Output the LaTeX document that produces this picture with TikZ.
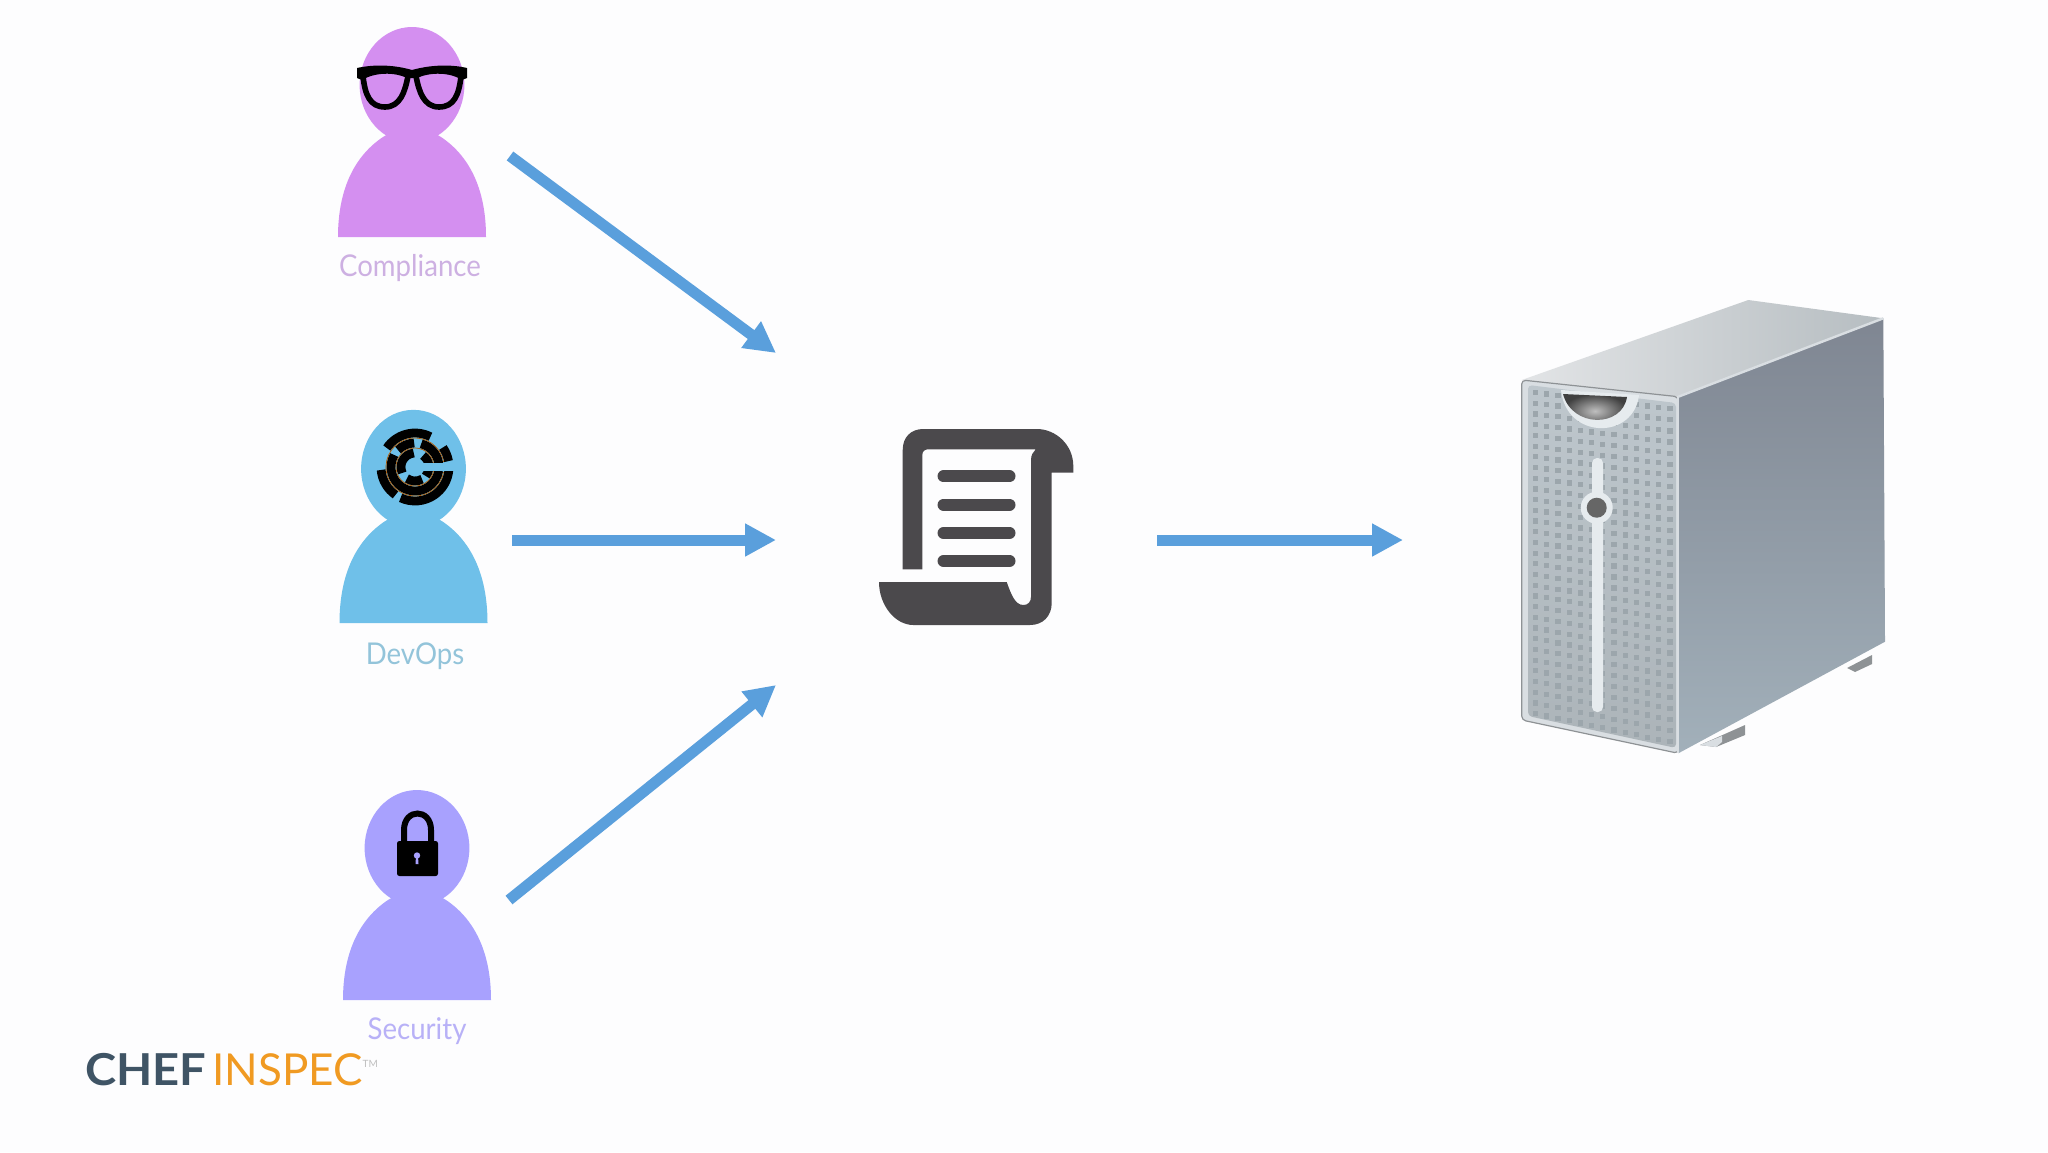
\documentclass[tikz,border=0pt]{standalone}
\usepackage{fontspec}
\setmainfont{Lato}
\newfontfamily\rolefont[FakeStretch=0.92]{Lato}
\newfontfamily\cheffont[FakeStretch=1.07]{Lato}
\usetikzlibrary{positioning,arrows.meta}

\definecolor{pagegrey}{HTML}{FDFDFE}
\definecolor{complianceviolet}{HTML}{D48FF0}
\definecolor{devopsblue}{HTML}{6FC0E9}
\definecolor{securityblue}{HTML}{A8A1FE}
\definecolor{compliancetext}{HTML}{CDB0E2}
\definecolor{devopstext}{HTML}{93C4DA}
\definecolor{securitytext}{HTML}{B8B1F7}
\definecolor{flowblue}{HTML}{5A9FDC}
\definecolor{scrollgrey}{HTML}{4B494C}
\definecolor{chefslate}{HTML}{3F5465}
\definecolor{inspecorange}{HTML}{F09A22}
\definecolor{serverlight}{HTML}{E2E4E6}
\definecolor{servermid}{HTML}{B6BDC1}
\definecolor{serverside}{HTML}{7F8692}
\definecolor{serverfoot}{HTML}{A2B0BA}
\definecolor{serverrim}{HTML}{D9DEE2}
\definecolor{serveredge}{HTML}{8E9295}
\definecolor{serverpanel}{HTML}{BEC7CD}
\definecolor{serverpanellow}{HTML}{ACB4B9}
\definecolor{serverdot}{HTML}{9CA6AC}
\definecolor{serverwhite}{HTML}{E6EBEE}

\tikzset{
    flow/.style = {-{Triangle[length=15.5pt,width=15.5pt]}, line width=5.5pt, flowblue},
    rolelabel/.style = {inner sep=0pt, font=\rolefont\fontsize{15}{18}\selectfont},
    logotext/.style = {inner sep=0pt, anchor=base west, font=\fontsize{22}{24}\selectfont},
    glassrim/.style = {draw=black, line width=2.8pt},
    scrollline/.style = {draw=scrollgrey, line width=6pt, line cap=round},
    chefring/.style = {draw=black, line width=4.4pt},
    chefhair/.style = {draw=orange!70!black, line width=0.35pt},
    pics/person/.style = {code = {
        \fill[#1] (-74,0) .. controls (-74,-50) and (-56,-82) .. (-29,-100)
            .. controls (-10,-112) and (10,-112) .. (29,-100)
            .. controls (56,-82) and (74,-50) .. (74,0) -- cycle;
        \fill[#1] (0,-152) ellipse [x radius=26.2pt, y radius=29pt];
    }}
}

\begin{document}
\begin{tikzpicture}[x=0.5pt, y=-0.5pt]
    \useasboundingbox (0,0) rectangle (2048,1152);
    \fill[pagegrey] (0,0) rectangle (2048,1152);

    \pic at (412,237) {person=complianceviolet};
    \pic[yscale=1.015] at (413.5,623) {person=devopsblue};
    \pic at (417,1000) {person=securityblue};

    \node (Compliance) [rolelabel, text=compliancetext] at (410,268) {Compliance};
    \node (DevOps) [rolelabel, text=devopstext] at (415,656) {DevOps};
    \node (Security) [rolelabel, text=securitytext] at (417,1031) {Security};

    \node (Chef) [logotext, text=chefslate, font=\cheffont\fontsize{22}{24}\selectfont\bfseries] at (85,1085) {CHEF};
    \node (Inspec) [logotext, text=inspecorange, right=2.5pt of Chef.base east, anchor=base west] {INSPEC\raisebox{9pt}{\color{black!25}\fontsize{5}{6}\selectfont TM}};

    % glasses
    \draw[glassrim] (363,76) .. controls (365,95) and (370,107) .. (385,107) .. controls (400,107) and (405,92) .. (408,76);
    \draw[glassrim] (461,76) .. controls (459,95) and (454,107) .. (439,107) .. controls (424,107) and (419,92) .. (416,76);
    \fill[black] (357,68) .. controls (375,64) and (395,65) .. (412,70) .. controls (430,65) and (450,64) .. (467,68)
        -- (467,78) -- (462,80) .. controls (450,72) and (430,72) .. (417,78) -- (407,78)
        .. controls (395,72) and (375,72) .. (362,80) -- (357,78) -- cycle;

    % chef mark
    \coordinate (ChefCenter) at (415,467);
    \foreach \r/\a/\b in {17/63/146, 17/185/235, 17/245/355, 17/10/35,
                          12/8/75, 12/92/135, 12/150/352,
                          7/8/55, 7/95/205, 7/235/300, 7/320/352}
        \draw[chefring] ([shift={(ChefCenter)}]\a:\r pt) arc[start angle=\a, end angle=\b, radius=\r pt];
    \foreach \r in {14.5,9.5}
        \draw[chefhair] ([shift={(ChefCenter)}]10:\r pt) arc[start angle=10, end angle=350, radius=\r pt];
    \fill[devopsblue] (415,463) rectangle (457,471);

    % lock
    \draw[black, line width=3pt] (404,842) -- (404,830) .. controls (404,808) and (431,808) .. (431,830) -- (431,842);
    \fill[black, rounded corners=1.2pt] (397,841) rectangle (438,876);
    \fill[securityblue] (417,855.5) circle (1.6pt);
    \fill[securityblue] (416,856) -- (418,856) -- (418.5,864) -- (415.5,864) -- cycle;

    % scroll
    \fill[scrollgrey] (902.7,568) -- (902.7,450) .. controls (902.7,437) and (911,429) .. (923.3,429)
        -- (1036.7,429) .. controls (1056,429) and (1073.3,445) .. (1073.3,466) -- (1073.3,472.7)
        -- (1051.7,472.7) -- (1051.7,603) .. controls (1051.7,616) and (1043,625) .. (1030,625)
        -- (913.3,625) .. controls (895,625) and (879,605) .. (879,582)
        -- (1006.7,582) .. controls (1011,594) and (1015,605) .. (1023.3,605)
        .. controls (1028,605) and (1031,602) .. (1031,596.7) -- (1031,460)
        .. controls (1031,455) and (1033,452) .. (1035.7,449.3) -- (928.3,449.3)
        .. controls (925,449.3) and (922.3,451) .. (922.3,455) -- (922.3,569.3) -- (902.7,569.3) -- cycle;
    \foreach \y in {476.3,504.7,533,561}
        \draw[scrollline] (943.5,\y) -- (1009.5,\y);

    % server
    \fill[serveredge] (1700,745) -- (1745,725) -- (1745,735) -- (1716,747) -- cycle;
    \fill[serveredge] (1847,668) -- (1872,655) -- (1872,664) -- (1855,672) -- cycle;
    \fill[serverrim] (1700,745) -- (1722,736) -- (1722,742) -- (1716,747) -- cycle;
    \shade[left color=serverlight, right color=servermid] (1521.7,380) -- (1748.3,300) -- (1883.3,318.3) -- (1678.3,396.7) -- cycle;
    \shade[shading angle=-15, top color=serverside, middle color=serverside, bottom color=serverfoot] (1678.3,396.7) -- (1883.3,318.3) -- (1885,641.7) -- (1678.3,753.3) -- cycle;
    \fill[serverrim, draw=serveredge, line width=0.6pt, rounded corners=2pt] (1521.7,380) -- (1678.3,396.7) -- (1678.3,753.3) -- (1521.7,720) -- cycle;
    \shade[top color=serverpanel, bottom color=serverpanellow, rounded corners=2pt] (1528,385) -- (1676,403) -- (1676,748) -- (1528,716) -- cycle;
    \foreach \i in {0,...,12}
        \foreach \j in {0,...,30} {
            \pgfmathsetmacro\dotx{1533+11.2*\i}
            \pgfmathsetmacro\doty{390+10.7*\j+\i*11.2*(0.12+0.003*\j)}
            \fill[serverdot] (\dotx,\doty) rectangle ++(5.2,5.2);
        }
    \draw[serverrim, line width=1.2pt] (1678.3,396.7) -- (1883.3,318.3);
    \draw[serverrim, line width=1pt] (1678.3,396.7) -- (1678.3,753.3);
    \fill[serverwhite] (1561,390) .. controls (1566,440) and (1634,440) .. (1639,395) -- cycle;
    \shade[inner color=gray!50, outer color=black!75] (1563,394) .. controls (1572,428) and (1622,428) .. (1627,397) -- cycle;
    \fill[serverwhite, rounded corners=2.5pt] (1592,458) rectangle (1603,712);
    \fill[serverwhite] (1596.7,507.7) circle (8pt);
    \fill[black!60] (1596.7,507.7) circle (5pt);

    \coordinate (ComplianceStart) at (510,156);
    \coordinate (ComplianceEnd) at (776,353);
    \coordinate (DevOpsStart) at (512,540);
    \coordinate (DevOpsEnd) at (776,540);
    \coordinate (SecurityStart) at (509,900);
    \coordinate (SecurityEnd) at (776,685);
    \coordinate (ScrollEast) at (1157,540);
    \coordinate (ServerWest) at (1403,540);

    \draw[flow] (ComplianceStart) -- (ComplianceEnd);
    \draw[flow] (DevOpsStart) -- (DevOpsEnd);
    \draw[flow] (SecurityStart) -- (SecurityEnd);
    \draw[flow] (ScrollEast) -- (ServerWest);
\end{tikzpicture}
\end{document}
